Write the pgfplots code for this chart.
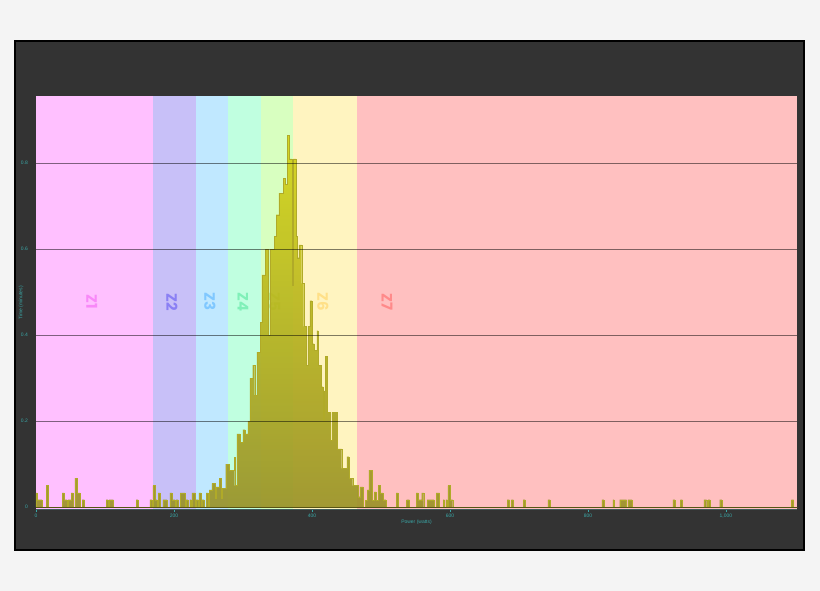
\documentclass[border=0pt]{standalone}
\usepackage{pgfplots}
\pgfplotsset{compat=1.18}
\usepackage{fontspec}
\setmainfont{Liberation Sans}
\newfontfamily\zonefont{Poppins}
\definecolor{pagebg}{HTML}{F4F4F4}
\definecolor{framebg}{HTML}{333333}
\definecolor{zA}{HTML}{FFC0FF}
\definecolor{zB}{HTML}{C8C0F8}
\definecolor{zC}{HTML}{C0E8FF}
\definecolor{zD}{HTML}{C0FFE0}
\definecolor{zE}{HTML}{D8FFC0}
\definecolor{zF}{HTML}{FFF4C0}
\definecolor{zG}{HTML}{FFC0C0}
\definecolor{lA}{HTML}{F888F8}
\definecolor{lB}{HTML}{8A80F4}
\definecolor{lC}{HTML}{80C8FF}
\definecolor{lD}{HTML}{80F0B8}
\definecolor{lE}{HTML}{B0E880}
\definecolor{lF}{HTML}{FFE088}
\definecolor{lG}{HTML}{FF8A8A}
\definecolor{tickc}{HTML}{3AA8A8}
\definecolor{axisc}{HTML}{3E5A5A}
\definecolor{histtop}{HTML}{D4D414}
\definecolor{histbot}{HTML}{989024}
\definecolor{histline}{HTML}{B0AA28}
\begin{document}
\begin{tikzpicture}
\fill[pagebg] (-36bp,-81.4bp) rectangle (784bp,509.6bp);
\filldraw[fill=framebg, draw=black, line width=2.5bp] (-21bp,-40.4bp) rectangle (768bp,468.6bp);
\begin{axis}[
  at={(0,0)}, anchor=south west, scale only axis,
  width=761bp, height=413.6bp,
  xmin=0, xmax=1103, ymin=-0.006, ymax=0.956,
  axis line style={draw=none},
  axis on top,
  xtick={0,200,400,600,800,1000},
  ytick={0,0.2,0.4,0.6,0.8},
  xtick pos=bottom, ytick pos=left,
  tick align=outside,
  major tick length=2bp,
  xtick style={draw=tickc, line width=0.6bp},
  ytick style={draw=none},
  /pgf/number format/assume math mode=true,
  /pgf/number format/1000 sep={,},
  ticklabel style={font=\fontsize{5}{5.5}\selectfont, text=tickc},
  yticklabel style={inner sep=0pt, xshift=-6bp},
  xticklabel style={inner sep=0pt, yshift=-2bp},
  ymajorgrids,
  major grid style={draw=black, opacity=0.5, line width=0.8bp},
  xlabel={Power (watts)},
  ylabel={Time (minutes)},
  label style={font=\fontsize{5}{5.5}\selectfont, text=tickc},
  xlabel style={at={(axis description cs:0.5,-0.030)}, anchor=center},
  ylabel style={at={(axis description cs:-0.0197,0.5)}, anchor=center},
]
\fill[zA] (axis cs:0,-0.006) rectangle (axis cs:170,0.956);
\fill[zB] (axis cs:170,-0.006) rectangle (axis cs:232,0.956);
\fill[zC] (axis cs:232,-0.006) rectangle (axis cs:279,0.956);
\fill[zD] (axis cs:279,-0.006) rectangle (axis cs:326,0.956);
\fill[zE] (axis cs:326,-0.006) rectangle (axis cs:372,0.956);
\fill[zF] (axis cs:372,-0.006) rectangle (axis cs:465,0.956);
\fill[zG] (axis cs:465,-0.006) rectangle (axis cs:1103,0.956);
\begin{scope}[font=\zonefont\bfseries\fontsize{15}{15}\selectfont]
\node[rotate=-90, text=lA] at (axis cs:81,0.477) {Z1};
\node[rotate=-90, text=lB] at (axis cs:197,0.477) {Z2};
\node[rotate=-90, text=lC] at (axis cs:252,0.477) {Z3};
\node[rotate=-90, text=lD] at (axis cs:300,0.477) {Z4};
\node[rotate=-90, text=lE] at (axis cs:346,0.477) {Z5};
\node[rotate=-90, text=lF] at (axis cs:416,0.477) {Z6};
\node[rotate=-90, text=lG] at (axis cs:509,0.477) {Z7};
\end{scope}
\addplot[const plot, draw=histline, line width=0.25bp, top color=histtop, bottom color=histbot, fill opacity=0.9] coordinates {
(0,0.033) (1.5,0.017) (9,0) (14.5,0.05) (17.5,0) (38,0.033) (41,0.017) (45,0) (46.5,0.017) (51,0.033) (54,0) (56.5,0.067) (59.5,0.033) (64,0) (67,0.017) (70,0)
(101.5,0.017) (104.5,0) (106,0.017) (112,0) (145,0.017) (148,0) (165,0.017) (168,0) (169.5,0.05) (172.5,0.017) (175.5,0) (177,0.033) (180,0) (184,0.017) (190,0)
(194,0.033) (197,0.017) (201.5,0) (203,0.017) (206,0) (209,0.033) (216,0) (217.5,0.017) (220,0) (223,0.017) (225,0) (226,0.033) (230.5,0) (232,0.017) (235,0)
(236,0.033) (239,0) (240.5,0.017) (243.5,0) (246.5,0.033) (249,0) (251,0.04) (255,0.055) (259.5,0.02) (261,0.047) (266,0.067) (268,0.02)
(270,0.044) (275,0.10) (280,0.086) (287,0.116) (288,0.05) (291,0.17) (296,0.15) (300,0.18) (303,0.17) (307,0.20) (310,0.30) (314,0.33) (317,0.26) (320,0.36)
(325,0.43) (327.5,0.54) (332,0.60) (337,0.40) (339,0.60) (345,0.63) (348,0.68) (352,0.73) (358,0.765) (361,0.75) (364,0.865) (367,0.81) (371,0.516) (372.5,0.81)
(377,0.63) (378,0.58) (381,0.61) (385,0.52) (388,0.42) (391,0.33) (394,0.42) (397,0.48) (400,0.38) (403,0.365) (407,0.41) (409,0.33) (413,0.28) (416,0.20)
(417,0.27) (419,0.35) (422,0.22) (426,0.155) (429,0.22) (436,0.135) (443,0.09) (450.5,0.117) (453.5,0.067) (459,0.05) (466.5,0.024) (469.5,0.047) (474,0)
(477,0.016) (480,0.04) (482.5,0.086) (487,0.016) (490,0.035) (493,0.016) (496,0.05) (499,0.033) (503,0.017) (507,0)
(522,0.033) (525,0) (537,0.017) (541,0) (551,0.033) (554,0.017) (559,0.033) (562,0) (567,0.017) (577,0) (580,0.033) (585,0) (590,0.017) (592,0) (594,0.017) (596,0)
(597,0.05) (600,0.017) (604,0) (683,0.017) (686,0) (689,0.017) (692,0) (706,0.017) (709,0) (742,0.017) (745,0) (820,0.017) (823,0) (836,0.017) (838,0)
(846,0.017) (856,0) (858,0.017) (864,0) (923,0.017) (926,0) (934,0.017) (937,0) (968,0.017) (972,0) (974,0.017) (977,0) (991,0.017) (994,0) (1095,0.017) (1098,0) (1103,0)
} \closedcycle;
\draw[axisc, line width=1.4bp] (rel axis cs:0,0) -- (rel axis cs:1,0);
\end{axis}
\end{tikzpicture}
\end{document}
